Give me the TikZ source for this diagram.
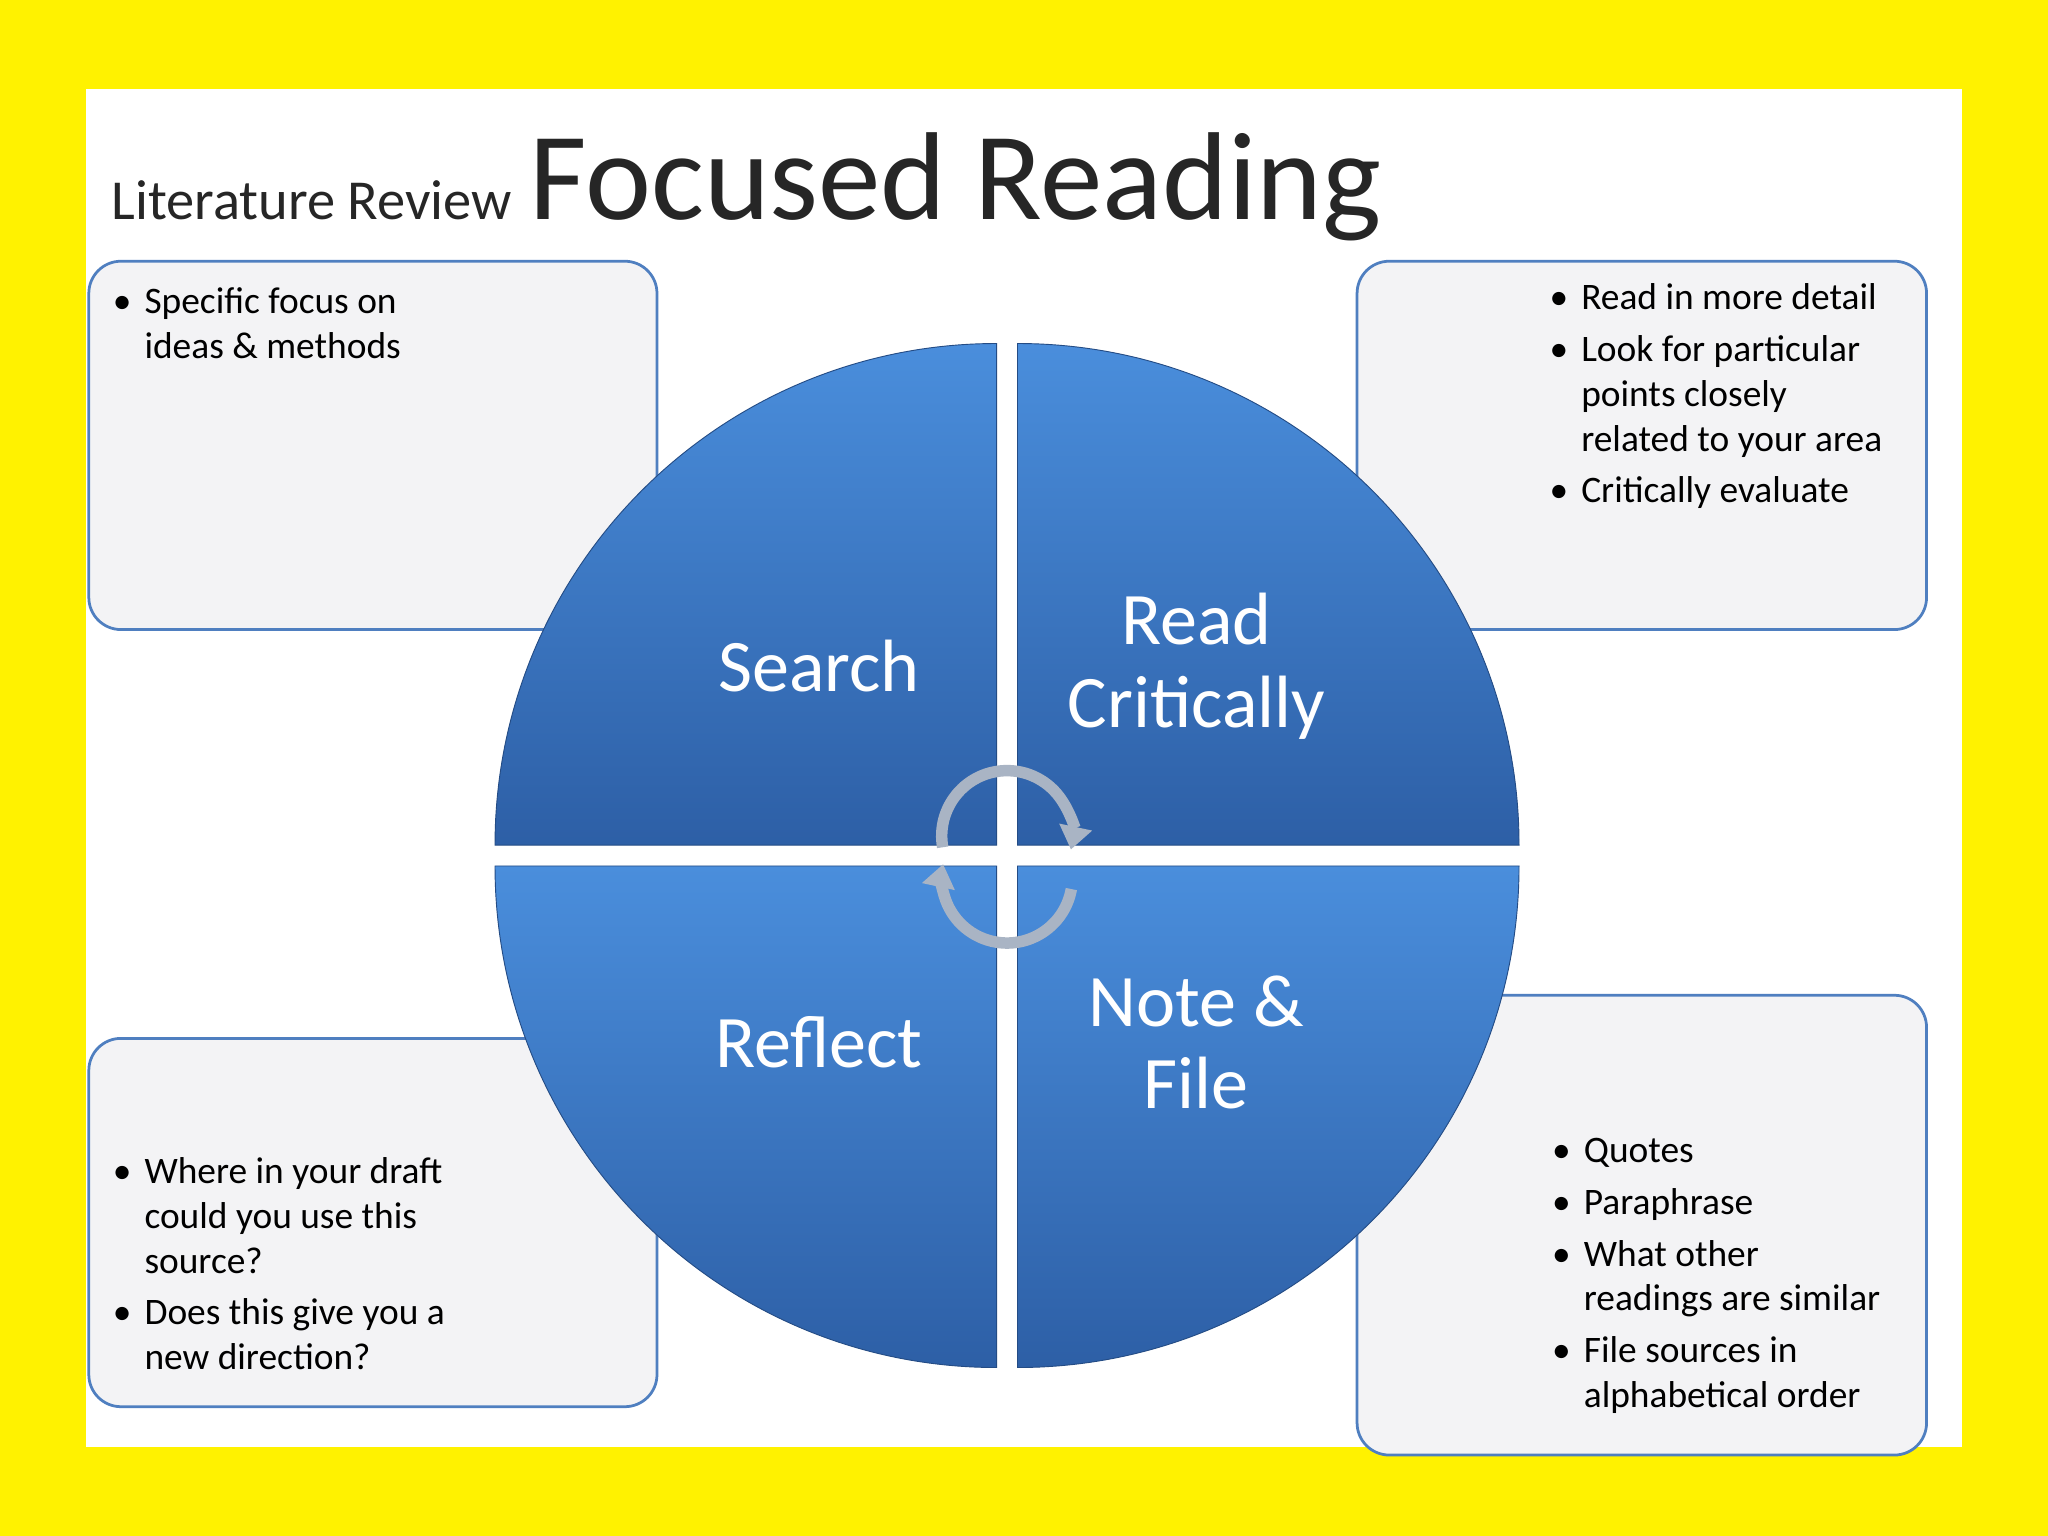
\documentclass[tikz,border=0pt]{standalone}
\usepackage{fontspec}
\setmainfont{Carlito}
\usetikzlibrary{arrows.meta}
\definecolor{bord}{HTML}{4F7FC0}
\definecolor{boxfill}{HTML}{F3F3F5}
\definecolor{qtop}{HTML}{4A8EDC}
\definecolor{qbot}{HTML}{2D5FA6}
\definecolor{ttl}{HTML}{262626}
\definecolor{arr}{HTML}{A9B4C4}
\begin{document}
\begin{tikzpicture}[x=0.02cm,y=-0.02cm,
  infobox/.style={draw=bord,line width=1.2pt,fill=boxfill,rounded corners=14pt},
  btxt/.style={anchor=north west,inner sep=0pt,font=\fontsize{16.3}{19.5}\selectfont,text=black},
  qlabel/.style={text=white,font=\fontsize{32.3}{36}\selectfont,align=center},
  quad/.style={top color=qtop,bottom color=qbot,draw=qbot!80!black,line width=0.4pt},
  cyc/.style={draw=arr,line width=5pt,-{Triangle[length=10pt,width=14pt]}}]
\useasboundingbox (0,0) rectangle (1568,1176);
\fill[yellow] (0,0) rectangle (1568,1176);
\fill[white] (66,68) rectangle (1502,1108);
\node[anchor=base west,inner sep=0pt,text=ttl,font=\fontsize{24.6}{26}\selectfont] (lr) at (85,168) {Literature Review};
\node[anchor=base west,inner sep=0pt,text=ttl,font=\fontsize{54.5}{58}\selectfont] (fr) at (405,168) {Focused Reading};
% boxes
\draw[infobox] (68,200) rectangle (503,482);
\draw[infobox] (1039,200) rectangle (1475,482);
\draw[infobox] (68,795) rectangle (503,1077);
\draw[infobox] (1039,762) rectangle (1475,1114);
\node[btxt] (t1) at (86,216) {\begin{tabular}{@{}l@{\hspace{0.35em}}l@{}}\textbullet&Specific focus on\\&ideas \& methods\end{tabular}};
\node[btxt] (t2) at (1186,213) {\begin{tabular}{@{}l@{\hspace{0.35em}}l@{}}\textbullet&Read in more detail\\[3pt]\textbullet&Look for particular\\&points closely\\&related to your area\\[3pt]\textbullet&Critically evaluate\end{tabular}};
\node[btxt] (t3) at (86,882) {\begin{tabular}{@{}l@{\hspace{0.35em}}l@{}}\textbullet&Where in your draft\\&could you use this\\&source?\\[3pt]\textbullet&Does this give you a\\&new direction?\end{tabular}};
\node[btxt] (t4) at (1188,866) {\begin{tabular}{@{}l@{\hspace{0.35em}}l@{}}\textbullet&Quotes\\[3pt]\textbullet&Paraphrase\\[3pt]\textbullet&What other\\&readings are similar\\[3pt]\textbullet&File sources in\\&alphabetical order\end{tabular}};
% quadrants
\def\R{384}
\shade[quad] (763,647) -- ++(-\R,0) arc[start angle=180,end angle=270,radius=\R] -- cycle;
\shade[quad] (779,647) -- ++(0,-\R) arc[start angle=270,end angle=360,radius=\R] -- cycle;
\shade[quad] (763,663) -- ++(-\R,0) arc[start angle=180,end angle=90,radius=\R] -- cycle;
\shade[quad] (779,663) -- ++(\R,0) arc[start angle=0,end angle=90,radius=\R] -- cycle;
\node[qlabel] (s) at (627,510) {Search};
\node[qlabel] (rc) at (916,510) {Read\\Critically};
\node[qlabel] (rf) at (627,798) {Reflect};
\node[qlabel] (nf) at (916,798) {Note \&\\File};
% cycle arrows
\coordinate (c1) at (771,640);
\coordinate (c2) at (771,672);
\draw[cyc] (c1) ++(170:50) arc[start angle=170,end angle=372,radius=50];
\draw[cyc] (c2) ++(10:50) arc[start angle=10,end angle=192,radius=50];
\end{tikzpicture}
\end{document}
